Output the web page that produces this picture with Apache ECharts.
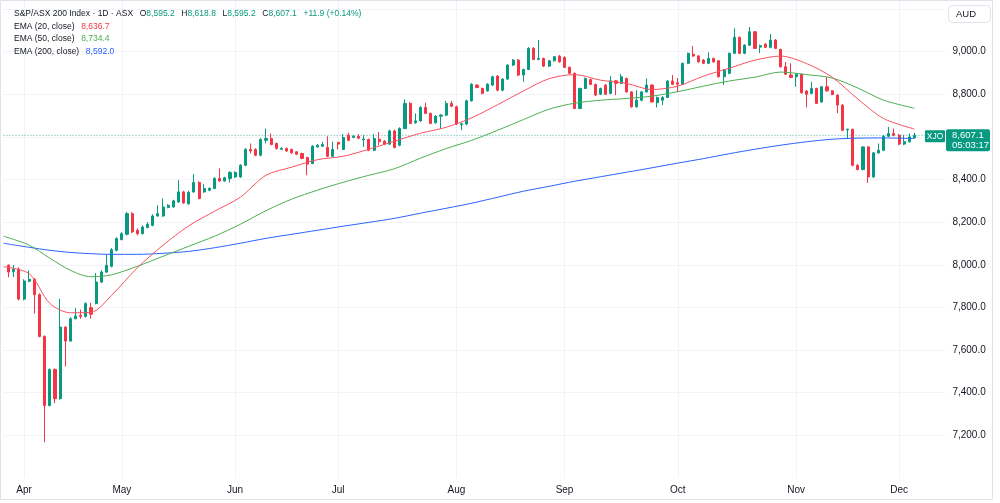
<!DOCTYPE html>
<html>
<head>
<meta charset="utf-8">
<script src="https://cdn.jsdelivr.net/npm/echarts@6/dist/echarts.min.js"></script>
<style>
  html, body { margin: 0; padding: 0; background: #fff; }
  #chart { width: 1000px; height: 503px; }
</style>
</head>
<body>
<div id="chart"></div>
<script>
// daily OHLC, S&P/ASX 200, 27 Mar -> 4 Dec
const open = [
  7998, 7968, 7980, 7839, 7923, 7932, 7860, 7664, 7340, 7509,
  7372, 7708, 7642, 7747, 7763, 7758, 7799, 7818, 7919, 7966,
  7993, 8068, 8118, 8143, 8240, 8162, 8146, 8175, 8185, 8229,
  8229, 8269, 8271, 8295, 8342, 8286, 8342, 8386, 8342, 8350,
  8358, 8405, 8393, 8405, 8412, 8412, 8467, 8541, 8541, 8514,
  8584, 8592, 8569, 8542, 8546, 8541, 8530, 8522, 8503, 8475,
  8553, 8556, 8550, 8509, 8574, 8541, 8608, 8597, 8603, 8586,
  8588, 8537, 8589, 8580, 8566, 8628, 8561, 8639, 8757, 8666,
  8675, 8738, 8710, 8666, 8697, 8702, 8757, 8741, 8657, 8660,
  8769, 8843, 8827, 8816, 8843, 8885, 8819, 8871, 8937, 8960,
  8890, 8916, 9015, 8963, 8968, 8932, 8957, 8979, 8973, 8926,
  8898, 8733, 8827, 8869, 8846, 8800, 8843, 8804, 8863, 8851,
  8874, 8811, 8741, 8772, 8811, 8843, 8760, 8772, 8785, 8862,
  8854, 8847, 8945, 8988, 8979, 8960, 8945, 8968, 8957, 8882,
  8898, 8992, 9067, 8992, 9030, 9093, 9021, 9035, 9020, 9054,
  9010, 8929, 8890, 8882, 8894, 8815, 8804, 8827, 8764, 8835,
  8816, 8796, 8749, 8633, 8635, 8467, 8447, 8553, 8412, 8525,
  8537, 8603, 8616, 8608, 8566, 8577, 8595.2
];
const high = [
  8002, 7999, 7988, 7932, 7974, 7937, 7866, 7669, 7514, 7514,
  7841, 7711, 7754, 7797, 7790, 7824, 7821, 7961, 7974, 8049,
  8078, 8129, 8153, 8247, 8247, 8171, 8185, 8200, 8237, 8279,
  8311, 8284, 8305, 8397, 8347, 8347, 8425, 8392, 8378, 8364,
  8411, 8452, 8413, 8439, 8439, 8472, 8547, 8569, 8547, 8594,
  8639, 8616, 8573, 8552, 8549, 8545, 8533, 8526, 8507, 8561,
  8566, 8577, 8603, 8577, 8577, 8613, 8619, 8608, 8613, 8608,
  8592, 8613, 8623, 8585, 8634, 8634, 8645, 8776, 8763, 8710,
  8744, 8760, 8714, 8702, 8707, 8769, 8769, 8747, 8667, 8775,
  8852, 8847, 8831, 8852, 8887, 8890, 8876, 8941, 8965, 8965,
  8920, 9021, 9021, 9054, 8972, 8960, 8979, 8984, 8977, 8930,
  8902, 8831, 8878, 8873, 8850, 8831, 8847, 8885, 8866, 8894,
  8878, 8814, 8819, 8814, 8874, 8847, 8789, 8791, 8866, 8890,
  8876, 8948, 8995, 9026, 8984, 8965, 8996, 8972, 8960, 8918,
  8995, 9109, 9070, 9035, 9116, 9096, 9033, 9040, 9082, 9059,
  9014, 8951, 8945, 8897, 8897, 8820, 8858, 8831, 8838, 8882,
  8819, 8800, 8753, 8638, 8639, 8472, 8556, 8556, 8528, 8569,
  8608, 8647, 8639, 8613, 8608, 8616, 8618.8
];
const low = [
  7941, 7943, 7833, 7833, 7918, 7771, 7660, 7168, 7336, 7351,
  7368, 7523, 7641, 7744, 7747, 7753, 7747, 7815, 7914, 7961,
  7988, 8063, 8115, 8138, 8148, 8138, 8143, 8171, 8181, 8225,
  8225, 8265, 8268, 8291, 8286, 8282, 8338, 8307, 8338, 8345,
  8355, 8390, 8390, 8386, 8408, 8408, 8462, 8522, 8509, 8509,
  8569, 8561, 8540, 8538, 8529, 8521, 8514, 8495, 8420, 8472,
  8549, 8553, 8505, 8505, 8541, 8538, 8580, 8594, 8589, 8553,
  8533, 8533, 8561, 8561, 8561, 8546, 8556, 8636, 8660, 8662,
  8671, 8707, 8660, 8662, 8639, 8697, 8739, 8655, 8631, 8655,
  8765, 8828, 8800, 8812, 8838, 8814, 8814, 8866, 8932, 8885,
  8858, 8913, 8960, 8960, 8927, 8927, 8953, 8948, 8923, 8894,
  8730, 8730, 8824, 8843, 8791, 8796, 8796, 8800, 8796, 8847,
  8807, 8737, 8737, 8767, 8807, 8760, 8738, 8749, 8782, 8843,
  8811, 8843, 8941, 8976, 8948, 8941, 8941, 8948, 8878, 8843,
  8894, 8988, 8988, 8988, 9026, 9012, 8993, 9016, 9016, 9012,
  8925, 8890, 8876, 8835, 8803, 8738, 8800, 8754, 8760, 8812,
  8796, 8711, 8627, 8593, 8462, 8443, 8443, 8384, 8408, 8521,
  8533, 8599, 8603, 8561, 8561, 8573, 8595.2
];
const close = [
  7966, 7979, 7839, 7924, 7932, 7860, 7664, 7340, 7509, 7372,
  7708, 7642, 7747, 7760, 7758, 7818, 7768, 7919, 7966, 7998,
  8071, 8123, 8146, 8240, 8154, 8146, 8177, 8190, 8229, 8240,
  8271, 8279, 8300, 8342, 8290, 8340, 8386, 8311, 8358, 8358,
  8405, 8393, 8408, 8433, 8433, 8467, 8541, 8534, 8514, 8588,
  8592, 8564, 8546, 8546, 8534, 8525, 8519, 8499, 8472, 8556,
  8561, 8564, 8509, 8541, 8566, 8597, 8584, 8603, 8594, 8590,
  8537, 8592, 8577, 8566, 8628, 8550, 8639, 8757, 8663, 8675,
  8738, 8710, 8663, 8697, 8702, 8757, 8744, 8660, 8661, 8769,
  8847, 8832, 8804, 8847, 8882, 8819, 8871, 8937, 8960, 8890,
  8916, 9015, 8963, 8968, 8932, 8957, 8976, 8952, 8926, 8898,
  8733, 8827, 8874, 8846, 8796, 8827, 8800, 8863, 8851, 8882,
  8811, 8741, 8772, 8811, 8843, 8764, 8785, 8785, 8862, 8847,
  8847, 8945, 8992, 8979, 8952, 8945, 8968, 8952, 8882, 8913,
  8992, 9067, 8992, 9030, 9093, 9015, 9028, 9020, 9054, 9015,
  8929, 8894, 8879, 8893, 8807, 8800, 8827, 8757, 8835, 8816,
  8799, 8749, 8631, 8636, 8467, 8447, 8553, 8412, 8525, 8537,
  8603, 8616, 8608, 8566, 8577, 8600, 8607.1
];

// EMA lines, sampled along the chart (slot index -> value)
const emaSlots = [0, 5, 9, 13, 17, 21, 26, 31, 36, 41, 46, 51, 56, 61, 66, 71, 76, 81, 86,
  91, 96, 101, 106, 111, 116, 121, 126, 131, 136, 141, 146, 151, 156, 161, 166, 171, 177];
const ema20 = [7991, 7958, 7819, 7775, 7777, 7857, 7986, 8092, 8183, 8251, 8317, 8420, 8458,
  8493, 8509, 8542, 8580, 8617, 8645, 8690, 8751, 8815, 8873, 8892, 8866, 8851, 8822, 8838,
  8885, 8922, 8960, 8979, 8944, 8880, 8777, 8686, 8636.7];
const ema50 = [8134, 8092, 8031, 7974, 7944, 7953, 7993, 8040, 8087, 8134, 8190, 8254, 8308,
  8350, 8387, 8420, 8451, 8500, 8545, 8584, 8631, 8681, 8730, 8758, 8772, 8780, 8791, 8812,
  8838, 8862, 8880, 8904, 8892, 8876, 8829, 8772, 8734.4];
const ema200 = [8101, 8082, 8068, 8058, 8052, 8049, 8049, 8054, 8063, 8080, 8101, 8124, 8143,
  8162, 8181, 8199, 8218, 8242, 8265, 8289, 8317, 8345, 8368, 8392, 8413, 8434, 8455, 8477,
  8498, 8521, 8542, 8561, 8577, 8589, 8594, 8595, 8592.0];

// month ticks: slot of first trading day of each month
const monthSlots = [4, 23, 45, 65, 88, 109, 131, 154, 174];
const monthNames = ['Apr', 'May', 'Jun', 'Jul', 'Aug', 'Sep', 'Oct', 'Nov', 'Dec'];

const lastClose = 8607.1;
const UP = '#089981', DOWN = '#F23645';
const FONT = 'Liberation Sans, Arial, sans-serif';

// 1 empty slot before, 177 candles, 6 empty slots after
const slotCount = 184;
const slots = [];
const candles = [];
for (let i = 0; i < slotCount; i++) {
  slots.push(String(i));
  const k = i - 1;
  if (k >= 0 && k < open.length) {
    candles.push([open[k], close[k], low[k], high[k]]);
  } else {
    candles.push('-');
  }
}
const pairs = (vals) => vals.map((v, i) => [emaSlots[i], v]);
const isMonth = (idx) => monthSlots.indexOf(idx) >= 0;
const fmt = (v) => v.toLocaleString('en-US', { minimumFractionDigits: 1, maximumFractionDigits: 1 });

let myChart = echarts.init(document.getElementById('chart'));

let options = {
  animation: false,
  backgroundColor: '#ffffff',
  textStyle: { fontFamily: FONT },
  grid: { left: 3.5, right: 54.6, top: 0, bottom: 25, outerBoundsMode: 'none' },
  xAxis: {
    type: 'category',
    data: slots,
    boundaryGap: false,
    axisLine: { show: false },
    axisTick: { show: false },
    axisLabel: {
      interval: (idx) => isMonth(idx),
      formatter: (v) => monthNames[monthSlots.indexOf(Number(v))] || '',
      color: '#131722',
      fontSize: 10,
      fontFamily: FONT,
      margin: 7
    },
    splitLine: {
      show: true,
      interval: (idx) => isMonth(idx),
      lineStyle: { color: '#f0f3fa', width: 1 }
    }
  },
  yAxis: {
    type: 'value',
    position: 'right',
    min: 7000,
    max: 9242,
    interval: 200,
    axisLine: { show: false },
    axisTick: { show: false },
    axisLabel: {
      // the top tick sits under the currency box, so it carries no label
      formatter: (v) => (v > 9100 ? '' : fmt(v)),
      showMinLabel: false,
      showMaxLabel: false,
      color: '#131722',
      fontSize: 10,
      fontFamily: FONT,
      align: 'left',
      margin: 7
    },
    splitLine: {
      lineStyle: { color: '#f0f3fa', width: 1 },
      showMinLine: false,
      showMaxLine: false
    }
  },
  series: [
    {
      // last price line, dotted across the pane
      type: 'line',
      data: [[0, lastClose], [slotCount - 1, lastClose]],
      showSymbol: false,
      silent: true,
      lineStyle: { color: UP, type: [1, 2], width: 1, opacity: 0.7 },
      z: 1
    },
    {
      type: 'candlestick',
      data: candles,
      barWidth: 2.6,
      itemStyle: {
        color: UP,
        color0: DOWN,
        borderColor: UP,
        borderColor0: DOWN,
        borderWidth: 1
      },
      z: 2
    },
    {
      type: 'line',
      data: pairs(ema200),
      showSymbol: false,
      smooth: 0.3,
      lineStyle: { color: '#2962ff', width: 1 },
      z: 3
    },
    {
      type: 'line',
      data: pairs(ema50),
      showSymbol: false,
      smooth: 0.3,
      lineStyle: { color: '#4caf50', width: 1 },
      z: 3
    },
    {
      type: 'line',
      data: pairs(ema20),
      showSymbol: false,
      smooth: 0.3,
      lineStyle: { color: '#f7525f', width: 1 },
      z: 3
    }
  ]
};
myChart.setOption(options);

// overlays: legend, currency box, last price label
const py = myChart.convertToPixel({ yAxisIndex: 0 }, lastClose);
const legendRich = {
  t: { fill: '#131722', fontSize: 8.5, fontFamily: FONT },
  v: { fill: UP, fontSize: 8.5, fontFamily: FONT },
  r: { fill: '#f23645', fontSize: 8.5, fontFamily: FONT },
  g: { fill: '#4caf50', fontSize: 8.5, fontFamily: FONT },
  b: { fill: '#2962ff', fontSize: 8.5, fontFamily: FONT }
};
const legendLine = (id, y, text) => ({
  type: 'text', id: id, left: 14, top: y, z: 100,
  style: { text: text, rich: legendRich, verticalAlign: 'middle' }
});

myChart.setOption({
  graphic: [
    legendLine('l1', 8, '{t|S&P/ASX 200 Index · 1D · ASX}  {t|O}{v|8,595.2}  {t|H}{v|8,618.8}  {t|L}{v|8,595.2}  {t|C}{v|8,607.1}  {v|+11.9 (+0.14%)}'),
    legendLine('l2', 20.5, '{t|EMA (20, close)}  {r|8,636.7}'),
    legendLine('l3', 33, '{t|EMA (50, close)}  {g|8,734.4}'),
    legendLine('l4', 45.5, '{t|EMA (200, close)}  {b|8,592.0}'),
    {
      type: 'rect', id: 'frame', z: 100, silent: true,
      shape: { x: 0.5, y: 0.5, width: 992, height: 499, r: 0 },
      style: { fill: 'none', stroke: '#e0e3eb', lineWidth: 1 }
    },
    {
      type: 'rect', id: 'aud', z: 100,
      shape: { x: 948.5, y: 5.5, width: 42, height: 17, r: 4 },
      style: { fill: '#ffffff', stroke: '#e0e3eb', lineWidth: 1 }
    },
    {
      type: 'text', id: 'audText', z: 101, left: 956, top: 9,
      style: { text: 'AUD', fill: '#131722', fontSize: 9.5, fontFamily: FONT }
    },
    {
      type: 'rect', id: 'symBox', z: 100,
      shape: { x: 925, y: py - 5, width: 20, height: 12, r: 1 },
      style: { fill: UP }
    },
    {
      type: 'text', id: 'symText', z: 101, x: 935, y: py + 1,
      style: { text: 'XJO', fill: '#ffffff', fontSize: 8.5, fontFamily: FONT, align: 'center', verticalAlign: 'middle' }
    },
    {
      type: 'rect', id: 'priceBox', z: 100,
      shape: { x: 946, y: py - 6, width: 44, height: 22, r: 2 },
      style: { fill: UP }
    },
    {
      type: 'text', id: 'priceText', z: 101, x: 952, y: py,
      style: { text: fmt(lastClose), fill: '#ffffff', fontSize: 9.5, fontFamily: FONT, verticalAlign: 'middle' }
    },
    {
      type: 'text', id: 'timeText', z: 101, x: 952, y: py + 10.5,
      style: { text: '05:03:17', fill: '#ffffff', fontSize: 9.5, fontFamily: FONT, verticalAlign: 'middle' }
    }
  ]
});
</script>
</body>
</html>
